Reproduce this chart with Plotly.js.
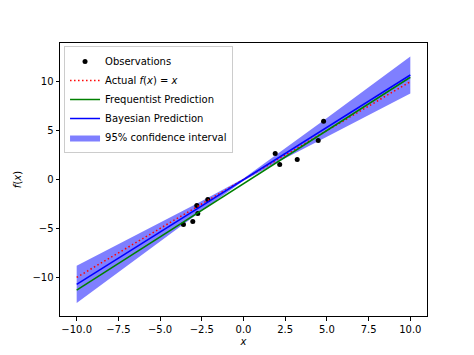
<!DOCTYPE html>
<html>
<head>
<meta charset="utf-8">
<script src="https://cdn.plot.ly/plotly-3.0.1.min.js"></script>
<style>html,body{margin:0;padding:0;background:#fff;}#chart{width:474px;height:355px;}</style>
</head>
<body>
<div id="chart"></div>
<script>
// Observations
const obsX = [-3.6, -3.04, -2.8, -2.74, -2.14, 1.9, 2.17, 3.22, 4.48, 4.8];
const obsY = [-4.6, -4.3, -2.65, -3.47, -2.04, 2.65, 1.53, 2.04, 3.98, 5.95];

// Lines (endpoints at x = -10 and 10)
const lineX = [-10, 10];
const actualY = [-10, 10];
const freqY = [-11.3, 10.45];
const bayesY = [-10.72, 10.68];

// 95% confidence band
const bandX = [-10, -7.5, -5, -2.5, 0, 2.5, 5, 7.5, 10];
const bandUpper = [-8.82, -6.61, -4.41, -2.20, 0.10, 3.16, 6.29, 9.44, 12.58];
const bandLower = [-12.62, -9.47, -6.33, -3.20, -0.14, 2.16, 4.37, 6.58, 8.78];

const font = {family: 'DejaVu Sans', size: 10, color: '#000'};

const traces = [
  {x: bandX, y: bandLower, mode: 'lines', line: {width: 0, color: 'rgba(0,0,255,0)'}, showlegend: false, hoverinfo: 'skip'},
  {x: bandX, y: bandUpper, mode: 'lines', line: {width: 0, color: 'rgba(0,0,255,0)'}, fill: 'tonexty', fillcolor: 'rgba(0,0,255,0.5)', name: '95% confidence interval', legendrank: 5},
  {x: obsX, y: obsY, mode: 'markers', marker: {color: '#000', size: 5}, name: 'Observations', legendrank: 1},
  {x: lineX, y: actualY, mode: 'lines', line: {color: '#ff0000', width: 1.5, dash: '1.5px,2.5px'}, name: 'Actual <i>f</i>(<i>x</i>) = <i>x</i>', legendrank: 2},
  {x: lineX, y: freqY, mode: 'lines', line: {color: '#008000', width: 1.5}, name: 'Frequentist Prediction', legendrank: 3},
  {x: lineX, y: bayesY, mode: 'lines', line: {color: '#0000ff', width: 1.5}, name: 'Bayesian Prediction', legendrank: 4}
];

const axisCommon = {
  showgrid: false, zeroline: false, showline: true, mirror: true,
  linecolor: '#000', linewidth: 1, ticks: 'outside', ticklen: 3.5, tickwidth: 1, tickcolor: '#000',
  tickfont: font
};

const layout = {
  width: 474, height: 355,
  margin: {l: 60, r: 47, t: 43, b: 39},
  paper_bgcolor: '#fff', plot_bgcolor: '#fff',
  font: font,
  showlegend: true,
  legend: {
    x: 0.011, y: 0.989, xanchor: 'left', yanchor: 'top',
    traceorder: 'normal',
    bgcolor: 'rgba(255,255,255,0.8)', bordercolor: '#cccccc', borderwidth: 1,
    font: font, tracegroupgap: 0
  },
  xaxis: Object.assign({}, axisCommon, {
    range: [-11, 11], tick0: 0, dtick: 2.5, tickformat: '.1f',
    title: {text: '<i>x</i>', font: font, standoff: 4}
  }),
  yaxis: Object.assign({}, axisCommon, {
    range: [-13.95, 13.95], tick0: 0, dtick: 5,
    title: {text: '<i>f</i>(<i>x</i>)', font: font, standoff: 8}
  })
};

Plotly.newPlot('chart', traces, layout, {displayModeBar: false, staticPlot: true});
</script>
</body>
</html>
